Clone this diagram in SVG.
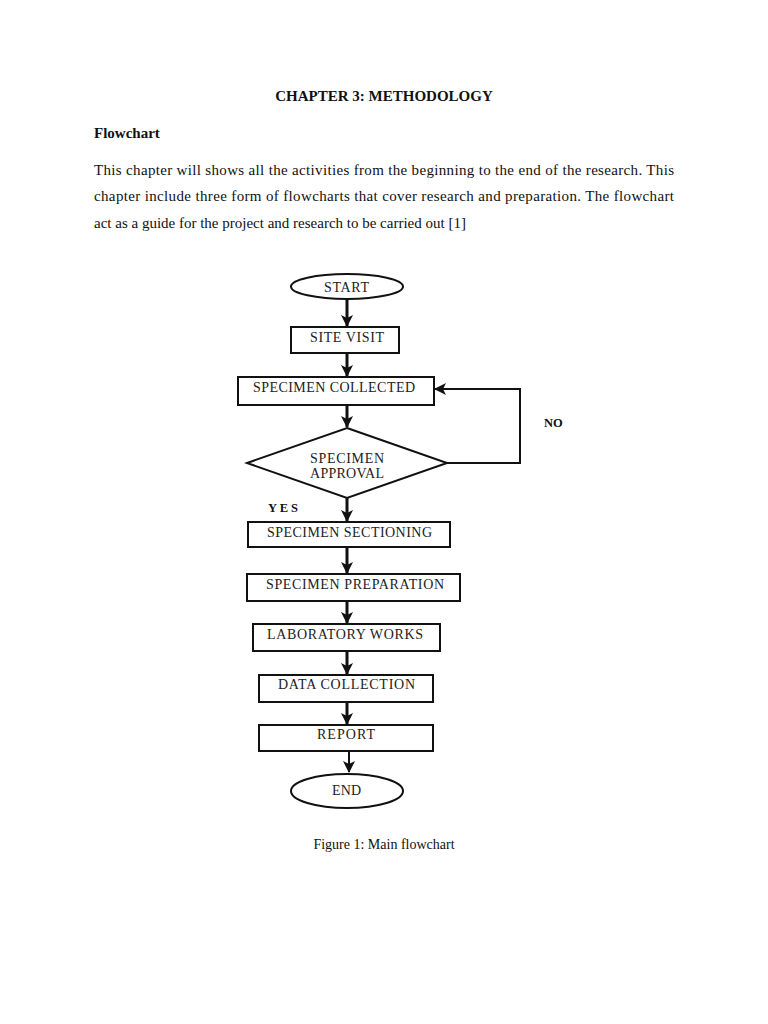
<svg xmlns="http://www.w3.org/2000/svg" width="768" height="1024" viewBox="0 0 768 1024">
<style>
.doc{font-family:"Liberation Serif","Times New Roman",serif;fill:#111;}
.b{font-weight:bold;}
.node{fill:#fff;stroke:#111;stroke-width:2;}
.lbl{font-family:"Liberation Serif","Times New Roman",serif;font-size:14px;fill:#222;text-anchor:middle;}
.conn{fill:none;stroke:#111;stroke-width:3;}
</style>
<defs>
<marker id="ah2" markerWidth="12" markerHeight="12" refX="11" refY="6" orient="auto" markerUnits="userSpaceOnUse" viewBox="0 0 12 12">
<path d="M0,0 L12,6 L0,12 L3,6 Z" fill="#111"/>
</marker>
</defs>
<rect width="768" height="1024" fill="#fff"/>
<g id="header">
<text class="doc b" x="384" y="101" font-size="15" text-anchor="middle">CHAPTER 3: METHODOLOGY</text>
<text class="doc b" x="94" y="138" font-size="15">Flowchart</text>
<text class="doc" x="94" y="175" font-size="15" textLength="580" lengthAdjust="spacing">This chapter will shows all the activities from the beginning to the end of the research. This</text>
<text class="doc" x="94" y="201" font-size="15" textLength="580" lengthAdjust="spacing">chapter include three form of flowcharts that cover research and preparation. The flowchart</text>
<text class="doc" x="94" y="228" font-size="15">act as a guide for the project and research to be carried out [1]</text>
</g>
<g id="connectors">
<line class="conn" x1="347" y1="299" x2="347" y2="326" marker-end="url(#ah2)"/>
<line class="conn" x1="347" y1="353" x2="347" y2="376" marker-end="url(#ah2)"/>
<line class="conn" x1="347" y1="405" x2="347" y2="427" marker-end="url(#ah2)"/>
<polyline fill="none" stroke="#111" stroke-width="2" points="447,463 520,463 520,389 435,389" marker-end="url(#ah2)"/>
<line class="conn" x1="347" y1="498" x2="347" y2="521" marker-end="url(#ah2)"/>
<line class="conn" x1="347" y1="547" x2="347" y2="573" marker-end="url(#ah2)"/>
<line class="conn" x1="347" y1="601" x2="347" y2="623" marker-end="url(#ah2)"/>
<line class="conn" x1="347" y1="651" x2="347" y2="674" marker-end="url(#ah2)"/>
<line class="conn" x1="347" y1="702" x2="347" y2="724" marker-end="url(#ah2)"/>
<line fill="none" stroke="#111" stroke-width="2" x1="349" y1="751" x2="349" y2="772" marker-end="url(#ah2)"/>
<text class="doc b" x="544" y="427" font-size="12.5">NO</text>
<text class="doc b" x="268" y="512" font-size="12.5" textLength="30" lengthAdjust="spacing">YES</text>
</g>
<g id="start">
<ellipse class="node" cx="347" cy="286.5" rx="56" ry="12.5"/>
<text class="lbl" x="346.5" y="292" textLength="45" lengthAdjust="spacing">START</text>
</g>
<g id="site-visit">
<rect class="node" x="291" y="327" width="108" height="26"/>
<text class="lbl" x="347" y="342" textLength="74" lengthAdjust="spacing">SITE VISIT</text>
</g>
<g id="specimen-collected">
<rect class="node" x="238" y="377" width="196" height="28"/>
<text class="lbl" x="334" y="392" textLength="162" lengthAdjust="spacing">SPECIMEN COLLECTED</text>
</g>
<g id="specimen-approval">
<polygon class="node" points="347,428 447,463 347,498 247,463"/>
<text class="lbl" x="347" y="463" textLength="74" lengthAdjust="spacing">SPECIMEN</text>
<text class="lbl" x="347" y="478" textLength="74" lengthAdjust="spacing">APPROVAL</text>
</g>
<g id="specimen-sectioning">
<rect class="node" x="248" y="522" width="202" height="25"/>
<text class="lbl" x="349.5" y="537" textLength="165" lengthAdjust="spacing">SPECIMEN SECTIONING</text>
</g>
<g id="specimen-preparation">
<rect class="node" x="247" y="574" width="213" height="27"/>
<text class="lbl" x="355" y="589" textLength="178" lengthAdjust="spacing">SPECIMEN PREPARATION</text>
</g>
<g id="laboratory-works">
<rect class="node" x="253" y="624" width="187" height="27"/>
<text class="lbl" x="345" y="639" textLength="156" lengthAdjust="spacing">LABORATORY WORKS</text>
</g>
<g id="data-collection">
<rect class="node" x="259" y="675" width="174" height="27"/>
<text class="lbl" x="346.5" y="689" textLength="137" lengthAdjust="spacing">DATA COLLECTION</text>
</g>
<g id="report">
<rect class="node" x="259" y="725" width="174" height="26"/>
<text class="lbl" x="346" y="739" textLength="58" lengthAdjust="spacing">REPORT</text>
</g>
<g id="end">
<ellipse class="node" cx="347" cy="791" rx="56" ry="17"/>
<text class="lbl" x="346.5" y="795" textLength="29" lengthAdjust="spacing">END</text>
</g>
<text class="doc" x="384" y="849" font-size="14" text-anchor="middle">Figure 1: Main flowchart</text>
</svg>
